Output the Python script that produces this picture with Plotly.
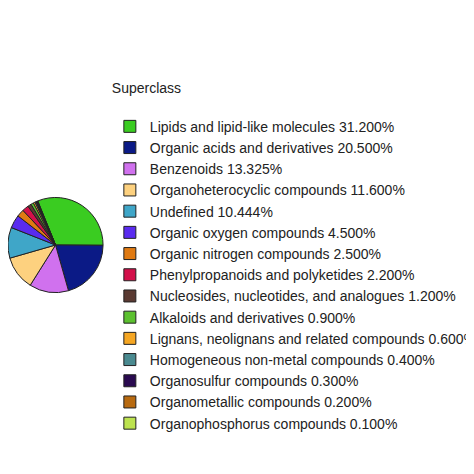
import plotly.graph_objects as go

superclass = [
    "Lipids and lipid-like molecules 31.200%",
    "Organic acids and derivatives 20.500%",
    "Benzenoids 13.325%",
    "Organoheterocyclic compounds 11.600%",
    "Undefined 10.444%",
    "Organic oxygen compounds 4.500%",
    "Organic nitrogen compounds 2.500%",
    "Phenylpropanoids and polyketides 2.200%",
    "Nucleosides, nucleotides, and analogues 1.200%",
    "Alkaloids and derivatives 0.900%",
    "Lignans, neolignans and related compounds 0.600%",
    "Homogeneous non-metal compounds 0.400%",
    "Organosulfur compounds 0.300%",
    "Organometallic compounds 0.200%",
    "Organophosphorus compounds 0.100%",
]
percent = [31.2, 20.5, 13.325, 11.6, 10.444, 4.5, 2.5, 2.2, 1.2, 0.9, 0.6, 0.4, 0.3, 0.2, 0.1]
colors = ["#3acc21", "#0b1a86", "#d071ee", "#fdd17f", "#3fa6c8", "#5a2bef",
          "#e07a12", "#d3104a", "#5a3a32", "#5cc12f", "#f5a623", "#4a8a90",
          "#2a0a50", "#b86a10", "#bde34f"]

fig = go.Figure()
fig.add_trace(go.Pie(
    labels=superclass, values=percent, sort=False, direction="clockwise",
    rotation=-22, textinfo="none", hoverinfo="label",
    marker={"colors": colors, "line": {"color": "#222222", "width": 1}},
    domain={"x": [0, 0.49], "y": [0, 1]},
))
fig.update_layout(
    width=474, height=474,
    margin={"l": 0, "r": 0, "t": 0, "b": 0},
    paper_bgcolor="white",
    font={"family": "Liberation Sans, Arial, sans-serif", "size": 14, "color": "#222222"},
    legend={"x": 0.525, "xanchor": "left", "y": 0.86, "yanchor": "top",
            "title": {"text": "Superclass<br> ", "font": {"size": 14}},
            "tracegroupgap": 0, "itemwidth": 30},
)
fig.write_html("out.html")
